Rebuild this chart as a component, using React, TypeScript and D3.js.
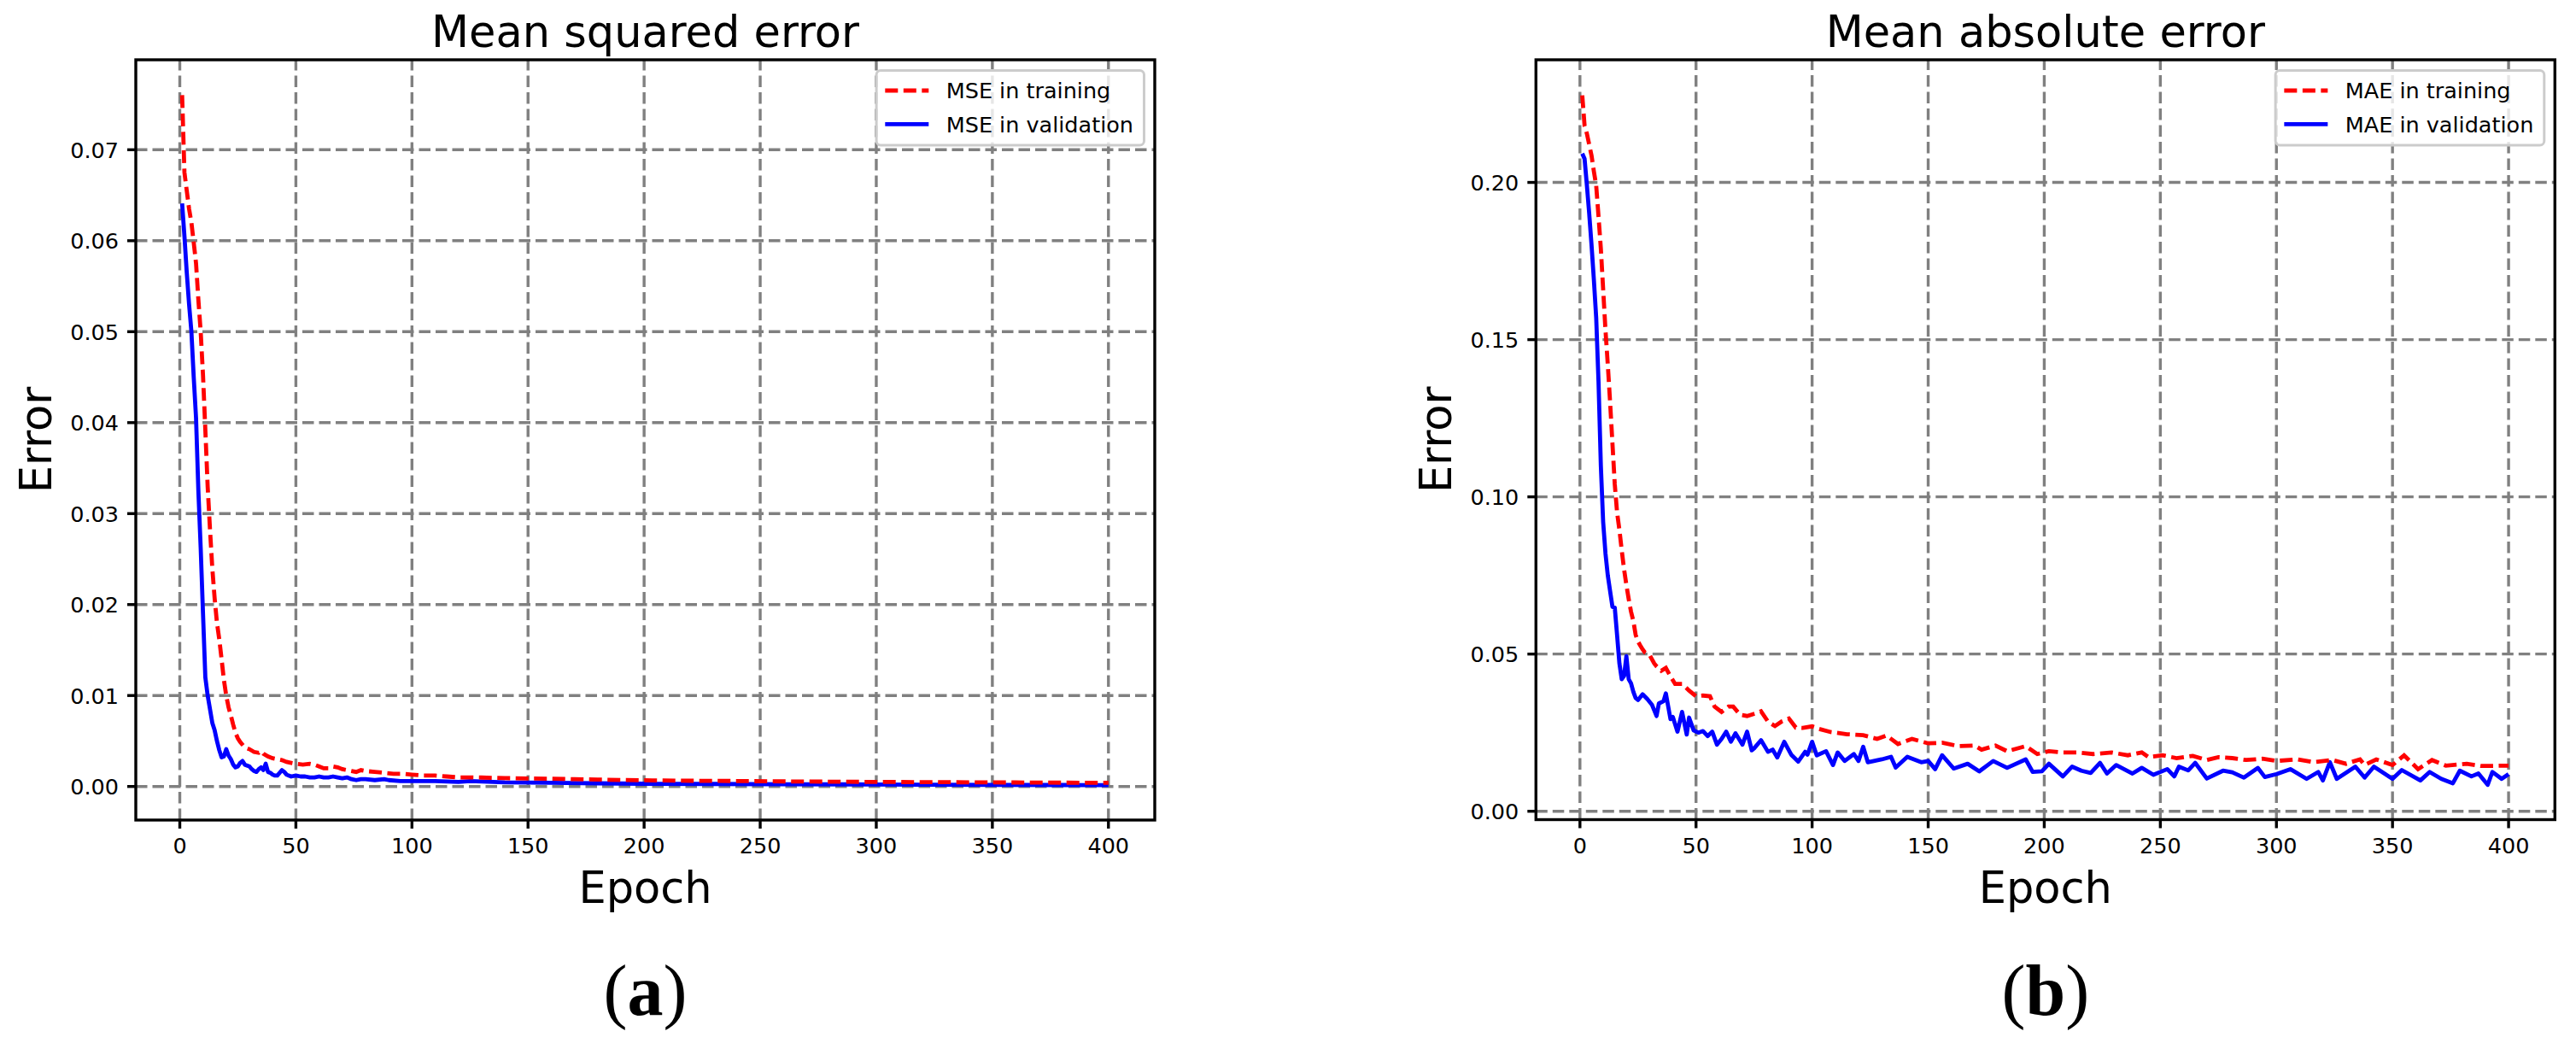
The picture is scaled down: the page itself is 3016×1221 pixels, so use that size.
import React from 'react';
import * as d3 from 'd3';

type Pt = [number, number];

const epochTicks = [0, 50, 100, 150, 200, 250, 300, 350, 400];
const mseTicks = [0, 0.01, 0.02, 0.03, 0.04, 0.05, 0.06, 0.07];
const maeTicks = [0, 0.05, 0.1, 0.15, 0.2];

const mseTitle = 'Mean squared error';
const maeTitle = 'Mean absolute error';
const mseNames = ['MSE in training', 'MSE in validation'];
const maeNames = ['MAE in training', 'MAE in validation'];
const xLabel = 'Epoch';
const yLabel = 'Error';

// MSE in training (epoch, value)
const mseTrain: Pt[] = [
  [1, 0.076], [2, 0.0675], [3, 0.0655], [4, 0.0635], [5, 0.062], [6, 0.0598], [7, 0.0575], [8, 0.0535],
  [9, 0.05], [10, 0.0452], [11, 0.0392], [12, 0.033], [13, 0.0283], [14, 0.024], [15, 0.0207], [16, 0.018],
  [17, 0.0162], [18, 0.014], [19, 0.0117], [20, 0.01], [21, 0.0087], [22, 0.0078], [23, 0.0068], [24, 0.0059],
  [25, 0.0053], [26, 0.0049], [27, 0.0046], [28, 0.0043], [29, 0.0042], [30, 0.0041], [32, 0.0038], [34, 0.0037],
  [35, 0.0039], [36, 0.0036], [38, 0.0033], [40, 0.0031], [42, 0.003], [44, 0.0029], [46, 0.0027], [48, 0.0026],
  [50, 0.0025], [53, 0.0024], [56, 0.0025], [58, 0.0024], [60, 0.0022], [62, 0.002], [64, 0.002], [66, 0.0022],
  [68, 0.0021], [70, 0.0019], [72, 0.0018], [74, 0.0017], [76, 0.0016], [78, 0.0018], [80, 0.0017], [84, 0.0016],
  [88, 0.0015], [92, 0.0014], [96, 0.0014], [100, 0.0013], [105, 0.0012], [110, 0.0012], [115, 0.0011], [120, 0.001],
  [125, 0.001], [130, 0.00098], [140, 0.00092], [150, 0.00088], [160, 0.00085], [170, 0.0008], [180, 0.00076],
  [190, 0.00072], [200, 0.00068], [220, 0.00063], [240, 0.0006], [260, 0.00056], [280, 0.00053], [300, 0.0005],
  [320, 0.00048], [340, 0.00046], [360, 0.00044], [380, 0.00042], [400, 0.0004],
];

// MSE in validation
const mseVal: Pt[] = [
  [1, 0.0641], [2, 0.0605], [3, 0.0565], [4, 0.053], [5, 0.05], [6, 0.045], [7, 0.0405], [8, 0.0325],
  [9, 0.0262], [10, 0.019], [11, 0.012], [12, 0.01], [13, 0.0085], [14, 0.007], [15, 0.0062], [16, 0.005],
  [17, 0.004], [18, 0.0032], [19, 0.0033], [20, 0.0041], [21, 0.0034], [22, 0.003], [23, 0.0024], [24, 0.0021],
  [25, 0.0022], [26, 0.0026], [27, 0.0028], [28, 0.0024], [29, 0.0023], [30, 0.0022], [31, 0.0019], [32, 0.0017],
  [33, 0.0016], [34, 0.0019], [35, 0.0021], [36, 0.0018], [37, 0.0025], [38, 0.0016], [39, 0.0015], [40, 0.0013],
  [41, 0.0012], [42, 0.0012], [43, 0.0015], [44, 0.0018], [45, 0.0016], [46, 0.0013], [47, 0.0012], [48, 0.0011],
  [50, 0.0012], [52, 0.0011], [54, 0.0011], [56, 0.001], [58, 0.001], [60, 0.0011], [62, 0.001], [64, 0.001],
  [66, 0.0011], [68, 0.001], [70, 0.0009], [72, 0.001], [74, 0.0008], [76, 0.0007], [78, 0.0008], [80, 0.0008],
  [84, 0.0007], [88, 0.0008], [90, 0.0007], [95, 0.0006], [100, 0.0006], [110, 0.0006], [120, 0.0005], [125, 0.0006],
  [140, 0.00045], [160, 0.0004], [180, 0.00035], [200, 0.0003], [230, 0.00028], [260, 0.00025], [290, 0.00023],
  [320, 0.0002], [350, 0.00018], [380, 0.00016], [400, 0.00015],
];

// MAE in training
const maeTrain: Pt[] = [
  [1, 0.2277], [2, 0.218], [3, 0.2155], [4, 0.212], [5, 0.2085], [6, 0.2035], [7, 0.199], [8, 0.1892],
  [9, 0.179], [10, 0.166], [11, 0.153], [12, 0.142], [13, 0.13], [14, 0.117], [15, 0.104], [16, 0.095],
  [17, 0.0895], [18, 0.083], [19, 0.077], [20, 0.072], [21, 0.0675], [22, 0.0635], [23, 0.0605], [24, 0.0561],
  [25, 0.054], [26, 0.0527], [27, 0.0515], [28, 0.0505], [30, 0.0497], [32, 0.047], [33, 0.0461], [35, 0.0447],
  [37, 0.0456], [39, 0.0429], [41, 0.0405], [44, 0.0405], [47, 0.0384], [50, 0.0366], [53, 0.0368], [56, 0.0366],
  [58, 0.0333], [61, 0.0316], [64, 0.0333], [66, 0.0333], [69, 0.0307], [72, 0.0303], [76, 0.0312], [78, 0.0318],
  [81, 0.0285], [84, 0.0271], [87, 0.0286], [90, 0.0295], [93, 0.0266], [96, 0.0265], [100, 0.027], [103, 0.0262],
  [108, 0.0252], [115, 0.0245], [122, 0.0242], [128, 0.023], [132, 0.0241], [137, 0.0214], [143, 0.023], [150, 0.0216],
  [156, 0.0218], [163, 0.0207], [170, 0.0209], [173, 0.0196], [179, 0.0209], [184, 0.0191], [192, 0.0207], [197, 0.0182],
  [202, 0.0191], [208, 0.0187], [214, 0.0187], [221, 0.0182], [229, 0.0187], [236, 0.0178], [242, 0.0187], [245, 0.0172],
  [251, 0.0178], [257, 0.0169], [264, 0.0176], [270, 0.0163], [275, 0.0172], [281, 0.0169], [287, 0.0163], [294, 0.0167],
  [300, 0.016], [309, 0.0165], [316, 0.0156], [324, 0.0163], [330, 0.0151], [336, 0.0165], [338, 0.0147], [343, 0.0165],
  [350, 0.0147], [355, 0.0178], [361, 0.0134], [367, 0.0163], [373, 0.0145], [382, 0.0151], [388, 0.0144], [400, 0.0145],
];

// MAE in validation
const maeVal: Pt[] = [
  [1, 0.2092], [2, 0.2075], [3, 0.199], [4, 0.19], [5, 0.18], [6, 0.169], [7, 0.157], [8, 0.1367],
  [9, 0.11], [10, 0.092], [11, 0.082], [12, 0.075], [13, 0.07], [14, 0.065], [15, 0.0648], [16, 0.056],
  [17, 0.047], [18, 0.042], [19, 0.043], [20, 0.0493], [21, 0.042], [22, 0.0407], [23, 0.038], [24, 0.036],
  [25, 0.0354], [27, 0.0372], [29, 0.0357], [31, 0.0339], [33, 0.0303], [34, 0.0343], [36, 0.035], [37, 0.0375],
  [39, 0.0293], [40, 0.03], [42, 0.0253], [44, 0.0316], [46, 0.0244], [47, 0.0298], [49, 0.0257], [51, 0.025],
  [53, 0.0255], [55, 0.0239], [57, 0.0253], [59, 0.0212], [61, 0.023], [63, 0.0253], [65, 0.0221], [67, 0.0248],
  [70, 0.0212], [72, 0.0253], [74, 0.0194], [75, 0.02], [78, 0.0226], [81, 0.0189], [83, 0.0196], [85, 0.0171],
  [88, 0.0221], [91, 0.018], [94, 0.0158], [97, 0.0189], [98, 0.018], [100, 0.0221], [102, 0.0178], [106, 0.0191],
  [109, 0.0147], [111, 0.0187], [114, 0.016], [118, 0.0182], [120, 0.016], [122, 0.0205], [124, 0.0156], [130, 0.0165],
  [134, 0.0173], [136, 0.0139], [141, 0.0173], [147, 0.0156], [150, 0.016], [153, 0.0134], [156, 0.0178], [161, 0.0136],
  [167, 0.0151], [172, 0.0127], [178, 0.016], [184, 0.0138], [192, 0.0165], [195, 0.0125], [199, 0.0127], [202, 0.0151],
  [208, 0.0111], [212, 0.0142], [216, 0.0129], [220, 0.0122], [224, 0.0154], [227, 0.012], [231, 0.0147], [238, 0.012],
  [242, 0.0138], [247, 0.0116], [253, 0.0134], [256, 0.0111], [258, 0.0142], [262, 0.013], [265, 0.0154], [270, 0.0104],
  [277, 0.0129], [281, 0.0124], [286, 0.0107], [292, 0.0138], [295, 0.0109], [300, 0.0118], [306, 0.0134], [313, 0.0103],
  [318, 0.0125], [320, 0.0098], [323, 0.0156], [326, 0.0103], [334, 0.0142], [338, 0.0107], [342, 0.0142], [350, 0.0103],
  [354, 0.0131], [362, 0.0098], [366, 0.0125], [371, 0.0103], [376, 0.0089], [379, 0.0129], [384, 0.0111], [387, 0.012],
  [391, 0.0084], [393, 0.0125], [397, 0.0103], [400, 0.0118],
];

const W = 3016;
const H = 1221;
const SANS = "'DejaVu Sans', sans-serif";
const SERIF = "'Liberation Serif', 'DejaVu Serif', serif";
const TICK_FS = 25.5;
const LABEL_FS = 51;
const LEG_FS = 25.5;
const LW = 4.8;

function textWidth(s: string, size: number): number {
  if (typeof document === 'undefined') return s.length * size * 0.55;
  const ctx = document.createElement('canvas').getContext('2d');
  if (!ctx) return s.length * size * 0.55;
  ctx.font = `${size}px "DejaVu Sans"`;
  return ctx.measureText(s).width;
}

interface PanelProps {
  left: number; right: number; top: number; bottom: number;
  yDomain: [number, number]; yTicks: number[];
  train: Pt[]; val: Pt[]; title: string; names: string[]; letter: string;
}

function Panel(p: PanelProps) {
  const x = d3.scaleLinear().domain([1 - 19.95, 400 + 19.95]).range([p.left, p.right]);
  const y = d3.scaleLinear().domain(p.yDomain).range([p.bottom, p.top]);
  const line = d3.line<Pt>().x(d => x(d[0])).y(d => y(d[1]));
  const fmt = d3.format('.2f');
  const cx = (p.left + p.right) / 2;
  const cy = (p.top + p.bottom) / 2;

  const tw = Math.max(...p.names.map(n => textWidth(n, LEG_FS)));
  const boxR = p.right - 12.5;
  const textX = boxR - 12.5 - tw;
  const hx1 = textX - 0.8 * LEG_FS;
  const hx0 = hx1 - 2 * LEG_FS;
  const boxL = hx0 - 0.4 * LEG_FS;
  const boxT = p.top + 12.5;
  const boxB = 170;
  const rows = [106, 145.3];

  const gridStyle = { stroke: '#808080', strokeWidth: 3.4, strokeDasharray: '13.5,6', fill: 'none' } as const;

  return (
    <g>
      {epochTicks.map(t => (
        <line key={'gx' + t} x1={x(t)} x2={x(t)} y1={p.bottom} y2={p.top} style={gridStyle} />
      ))}
      {p.yTicks.map(t => (
        <line key={'gy' + t} x1={p.left} x2={p.right} y1={y(t)} y2={y(t)} style={gridStyle} />
      ))}
      <path d={line(p.val) || ''} fill="none" stroke="#0000ff" strokeWidth={LW} strokeLinejoin="round" />
      <path d={line(p.train) || ''} fill="none" stroke="#ff0000" strokeWidth={LW} strokeDasharray="15,6.5" />
      <rect x={p.left} y={p.top} width={p.right - p.left} height={p.bottom - p.top} fill="none" stroke="#000" strokeWidth={3.4} />
      {epochTicks.map(t => (
        <g key={'tx' + t}>
          <line x1={x(t)} x2={x(t)} y1={p.bottom} y2={p.bottom + 10} stroke="#000" strokeWidth={3.4} />
          <text x={x(t)} y={999} textAnchor="middle" fontFamily={SANS} fontSize={TICK_FS}>{t}</text>
        </g>
      ))}
      {p.yTicks.map(t => (
        <g key={'ty' + t}>
          <line x1={p.left - 10} x2={p.left} y1={y(t)} y2={y(t)} stroke="#000" strokeWidth={3.4} />
          <text x={p.left - 20} y={y(t) + 9.3} textAnchor="end" fontFamily={SANS} fontSize={TICK_FS}>{fmt(t)}</text>
        </g>
      ))}
      <text x={cx} y={55} textAnchor="middle" fontFamily={SANS} fontSize={LABEL_FS}>{p.title}</text>
      <text x={cx} y={1057} textAnchor="middle" fontFamily={SANS} fontSize={LABEL_FS}>{xLabel}</text>
      <text transform={`translate(${p.left - 99},${cy}) rotate(-90)`} textAnchor="middle" fontFamily={SANS} fontSize={LABEL_FS}>{yLabel}</text>
      <text x={cx} y={1188} textAnchor="middle" fontFamily={SERIF} fontSize={84}>
        (<tspan fontWeight="bold">{p.letter}</tspan>)
      </text>
      <rect x={boxL} y={boxT} width={boxR - boxL} height={boxB - boxT} rx={5} ry={5}
        fill="#fff" fillOpacity={0.8} stroke="#cccccc" strokeWidth={3} />
      <line x1={hx0} x2={hx1} y1={rows[0]} y2={rows[0]} stroke="#ff0000" strokeWidth={LW} strokeDasharray="15,6.5" />
      <line x1={hx0} x2={hx1} y1={rows[1]} y2={rows[1]} stroke="#0000ff" strokeWidth={LW} />
      {p.names.map((n, i) => (
        <text key={n} x={textX} y={rows[i] + 9.2} fontFamily={SANS} fontSize={LEG_FS}>{n}</text>
      ))}
    </g>
  );
}

export default function App() {
  return (
    <svg width={W} height={H} viewBox={`0 0 ${W} ${H}`}
      style={{ position: 'absolute', left: 0, top: 0, background: '#fff', display: 'block' }}>
      <rect x={0} y={0} width={W} height={H} fill="#fff" />
      <Panel left={159} right={1352} top={70} bottom={960} yDomain={[-0.00369, 0.07989]} yTicks={mseTicks}
        train={mseTrain} val={mseVal} title={mseTitle} names={mseNames} letter="a" />
      <Panel left={1798.3} right={2991.3} top={70} bottom={959.5} yDomain={[-0.00266, 0.239]} yTicks={maeTicks}
        train={maeTrain} val={maeVal} title={maeTitle} names={maeNames} letter="b" />
    </svg>
  );
}
